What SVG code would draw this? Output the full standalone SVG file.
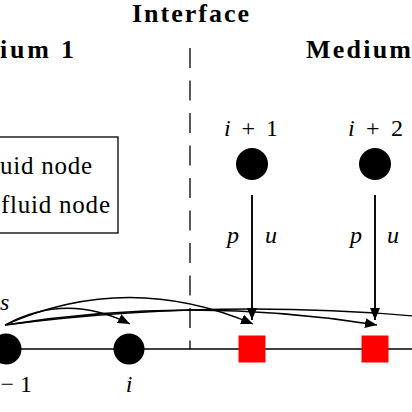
<svg xmlns="http://www.w3.org/2000/svg" width="412" height="412" viewBox="0 0 412 412">
<style>
.t{font-family:"Liberation Serif","DejaVu Serif",serif;fill:#000}
.b{font-weight:bold;font-size:26px}
.m{font-size:24px}
.lg{font-size:25px}
.it{font-style:italic}
.ln{stroke:#000;stroke-width:1.3;fill:none}
.va{stroke:#000;stroke-width:1.9;fill:none}
.dot{fill:#000}
.sq{fill:#ff0000}
</style>
<defs>
<marker id="ah" markerUnits="userSpaceOnUse" markerWidth="14" markerHeight="12" refX="12" refY="5" orient="auto">
<path d="M0,0 L12,5 L0,10 z" fill="#000"/>
</marker>
</defs>
<rect width="412" height="412" fill="#fff"/>

<g id="titles">
<text class="t b" x="132" y="22" textLength="117">Interface</text>
<text class="t b" x="0" y="58" textLength="74">ium 1</text>
<text class="t b" x="306" y="58" textLength="105">Medium</text>
</g>

<g id="interface">
<line x1="190" y1="48" x2="190" y2="349" stroke="#000" stroke-width="1.3" stroke-dasharray="20 12.5"/>
</g>

<g id="legend">
<rect x="-5" y="137" width="123" height="96" fill="#fff" stroke="#000" stroke-width="1.3"/>
<text class="t lg" x="0" y="174" textLength="92">uid node</text>
<text class="t lg" x="1" y="213" textLength="109">fluid node</text>
</g>

<g id="baseline">
<line x1="0" y1="349" x2="412" y2="349" stroke="#000" stroke-width="1.3"/>
</g>

<g id="connectors">
<path class="ln" d="M5,325 Q66,292 130,324" marker-end="url(#ah)"/>
<path class="ln" d="M5,325 Q127.5,270.5 253,324" marker-end="url(#ah)"/>
<path class="ln" d="M5,325 Q191,295 377,325" marker-end="url(#ah)"/>
<path class="ln" d="M5,325 Q251.5,293 498,325"/>
<line class="va" x1="252" y1="195" x2="252" y2="320" marker-end="url(#ah)"/>
<line class="va" x1="375" y1="195" x2="375" y2="320" marker-end="url(#ah)"/>
</g>

<g id="node-i-1">
<circle class="dot" cx="6" cy="349" r="15.5"/>
<text class="t m" x="32" y="392" text-anchor="end">− 1</text>
</g>
<g id="node-i">
<circle class="dot" cx="129" cy="349" r="15.5"/>
<text class="t m it" x="129" y="392" text-anchor="middle">i</text>
</g>
<g id="node-s">
<text class="t m it" x="0" y="310">s</text>
</g>
<g id="node-ip1">
<circle class="dot" cx="252" cy="164" r="16"/>
<text class="t m" x="224" y="136" textLength="54"><tspan class="it">i</tspan> + 1</text>
<text class="t m it" x="233" y="243" text-anchor="middle">p</text>
<text class="t m it" x="271" y="243" text-anchor="middle">u</text>
</g>
<g id="node-ip2">
<circle class="dot" cx="375" cy="164" r="16"/>
<text class="t m" x="348" y="136" textLength="55"><tspan class="it">i</tspan> + 2</text>
<text class="t m it" x="356" y="243" text-anchor="middle">p</text>
<text class="t m it" x="393" y="243" text-anchor="middle">u</text>
</g>
<g id="square-ip1">
<rect class="sq" x="238.5" y="335.5" width="27" height="27"/>
</g>
<g id="square-ip2">
<rect class="sq" x="361.5" y="335.5" width="27" height="27"/>
</g>
</svg>
